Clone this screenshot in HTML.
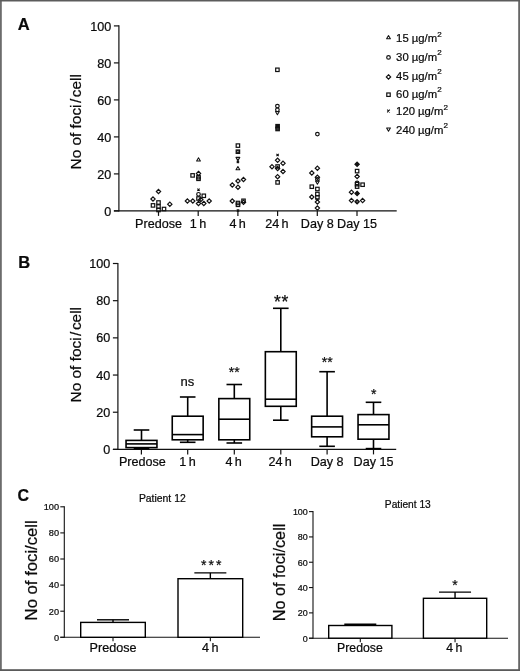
<!DOCTYPE html>
<html><head><meta charset="utf-8"><title>Figure</title>
<style>
html,body{margin:0;padding:0;background:#fff;}
body{width:520px;height:671px;overflow:hidden;position:relative;}
svg{display:block;position:absolute;left:0;top:0;}
text{font-family:"Liberation Sans", Arial, sans-serif;fill:#0a0a0a;stroke:#0a0a0a;stroke-width:0.22px;}
</style></head><body>
<svg width="520" height="671" viewBox="0 0 520 671">
<rect x="0" y="0" width="520" height="671" fill="#fff"/>
<rect x="0" y="0" width="1.8" height="671" fill="#6c6c6c"/>
<rect x="518.2" y="0" width="1.8" height="671" fill="#666"/>
<rect x="0" y="0" width="520" height="1.5" fill="#5c5c5c"/>
<rect x="0" y="669.2" width="520" height="1.8" fill="#5a5a5a"/>

<text x="17.80" y="29.80" font-size="16.5" text-anchor="start" font-weight="bold" >A</text>
<line x1="118.90" y1="25.30" x2="118.90" y2="211.50" stroke="#111" stroke-width="1.2"/>
<line x1="113.90" y1="210.90" x2="396.70" y2="210.90" stroke="#111" stroke-width="1.2"/>
<line x1="113.90" y1="210.90" x2="118.90" y2="210.90" stroke="#111" stroke-width="1.2"/>
<text x="111.30" y="215.50" font-size="12.6" text-anchor="end" font-weight="normal" >0</text>
<line x1="113.90" y1="173.90" x2="118.90" y2="173.90" stroke="#111" stroke-width="1.2"/>
<text x="111.30" y="178.50" font-size="12.6" text-anchor="end" font-weight="normal" >20</text>
<line x1="113.90" y1="136.90" x2="118.90" y2="136.90" stroke="#111" stroke-width="1.2"/>
<text x="111.30" y="141.50" font-size="12.6" text-anchor="end" font-weight="normal" >40</text>
<line x1="113.90" y1="99.90" x2="118.90" y2="99.90" stroke="#111" stroke-width="1.2"/>
<text x="111.30" y="104.50" font-size="12.6" text-anchor="end" font-weight="normal" >60</text>
<line x1="113.90" y1="62.90" x2="118.90" y2="62.90" stroke="#111" stroke-width="1.2"/>
<text x="111.30" y="67.50" font-size="12.6" text-anchor="end" font-weight="normal" >80</text>
<line x1="113.90" y1="25.90" x2="118.90" y2="25.90" stroke="#111" stroke-width="1.2"/>
<text x="111.30" y="30.50" font-size="12.6" text-anchor="end" font-weight="normal" >100</text>
<line x1="158.50" y1="210.90" x2="158.50" y2="215.90" stroke="#111" stroke-width="1.2"/>
<text x="158.50" y="227.70" font-size="12.6" text-anchor="middle" font-weight="normal" >Predose</text>
<line x1="198.20" y1="210.90" x2="198.20" y2="215.90" stroke="#111" stroke-width="1.2"/>
<text x="198.00" y="227.70" font-size="12.6" text-anchor="middle" font-weight="normal" word-spacing="-1.2">1 h</text>
<line x1="237.90" y1="210.90" x2="237.90" y2="215.90" stroke="#111" stroke-width="1.2"/>
<text x="237.70" y="227.70" font-size="12.6" text-anchor="middle" font-weight="normal" word-spacing="-1.2">4 h</text>
<line x1="277.60" y1="210.90" x2="277.60" y2="215.90" stroke="#111" stroke-width="1.2"/>
<text x="276.90" y="227.70" font-size="12.6" text-anchor="middle" font-weight="normal" word-spacing="-1.2">24 h</text>
<line x1="317.30" y1="210.90" x2="317.30" y2="215.90" stroke="#111" stroke-width="1.2"/>
<text x="317.30" y="227.70" font-size="12.6" text-anchor="middle" font-weight="normal" >Day 8</text>
<line x1="357.00" y1="210.90" x2="357.00" y2="215.90" stroke="#111" stroke-width="1.2"/>
<text x="357.00" y="227.70" font-size="12.6" text-anchor="middle" font-weight="normal" >Day 15</text>
<text transform="translate(81.3,121.8) rotate(-90)" font-size="15.4" stroke="#111" stroke-width="0.25" text-anchor="middle" word-spacing="0">No of foci<tspan dx="1.5">/</tspan><tspan dx="1.5">cell</tspan></text>
<path d="M158.50 189.35 L160.65 191.50 L158.50 193.65 L156.35 191.50 Z" fill="none" stroke="#111" stroke-width="1.2"/>
<path d="M153.00 196.85 L155.15 199.00 L153.00 201.15 L150.85 199.00 Z" fill="none" stroke="#111" stroke-width="1.2"/>
<path d="M169.80 202.05 L171.95 204.20 L169.80 206.35 L167.65 204.20 Z" fill="none" stroke="#111" stroke-width="1.2"/>
<rect x="151.28" y="203.68" width="3.44" height="3.44" fill="none" stroke="#111" stroke-width="1.2"/>
<rect x="156.78" y="200.78" width="3.44" height="3.44" fill="none" stroke="#111" stroke-width="1.2"/>
<rect x="156.78" y="204.78" width="3.44" height="3.44" fill="none" stroke="#111" stroke-width="1.2"/>
<rect x="156.78" y="208.28" width="3.44" height="3.44" fill="none" stroke="#111" stroke-width="1.2"/>
<rect x="162.28" y="207.28" width="3.44" height="3.44" fill="none" stroke="#111" stroke-width="1.2"/>
<path d="M198.50 157.69 L200.40 160.93 L196.60 160.93 Z" fill="none" stroke="#111" stroke-width="1.05" stroke-linejoin="round"/>
<path d="M198.50 171.25 L200.65 173.40 L198.50 175.55 L196.35 173.40 Z" fill="none" stroke="#111" stroke-width="1.2"/>
<rect x="190.88" y="173.68" width="3.44" height="3.44" fill="none" stroke="#111" stroke-width="1.2"/>
<rect x="196.78" y="175.48" width="3.44" height="3.44" fill="none" stroke="#111" stroke-width="1.2"/>
<rect x="196.78" y="177.08" width="3.44" height="3.44" fill="none" stroke="#111" stroke-width="1.2"/>
<path d="M197.35 188.55 L199.65 190.85 M199.65 188.55 L197.35 190.85" fill="none" stroke="#111" stroke-width="1.1"/>
<circle cx="198.50" cy="194.30" r="1.8" fill="none" stroke="#111" stroke-width="1.2"/>
<rect x="202.08" y="194.08" width="3.44" height="3.44" fill="none" stroke="#111" stroke-width="1.2"/>
<rect x="196.78" y="196.78" width="3.44" height="3.44" fill="none" stroke="#111" stroke-width="1.2"/>
<path d="M200.80 197.35 L202.95 199.50 L200.80 201.65 L198.65 199.50 Z" fill="none" stroke="#111" stroke-width="1.2"/>
<path d="M187.40 198.85 L189.55 201.00 L187.40 203.15 L185.25 201.00 Z" fill="none" stroke="#111" stroke-width="1.2"/>
<path d="M192.80 198.85 L194.95 201.00 L192.80 203.15 L190.65 201.00 Z" fill="none" stroke="#111" stroke-width="1.2"/>
<path d="M209.20 198.85 L211.35 201.00 L209.20 203.15 L207.05 201.00 Z" fill="none" stroke="#111" stroke-width="1.2"/>
<path d="M198.50 201.25 L200.65 203.40 L198.50 205.55 L196.35 203.40 Z" fill="none" stroke="#111" stroke-width="1.2"/>
<path d="M203.80 201.25 L205.95 203.40 L203.80 205.55 L201.65 203.40 Z" fill="none" stroke="#111" stroke-width="1.2"/>
<rect x="236.18" y="143.88" width="3.44" height="3.44" fill="none" stroke="#111" stroke-width="1.2"/>
<rect x="236.18" y="149.98" width="3.44" height="3.44" fill="none" stroke="#111" stroke-width="1.2"/>
<circle cx="237.90" cy="151.70" r="1.2" fill="none" stroke="#111" stroke-width="1.2"/>
<path d="M237.90 160.61 L239.80 157.38 L236.00 157.38 Z" fill="none" stroke="#111" stroke-width="1.05" stroke-linejoin="round"/>
<path d="M236.75 160.75 L239.05 163.05 M239.05 160.75 L236.75 163.05" fill="none" stroke="#111" stroke-width="1.1"/>
<path d="M237.90 166.50 L239.80 169.73 L236.00 169.73 Z" fill="none" stroke="#111" stroke-width="1.05" stroke-linejoin="round"/>
<path d="M243.50 177.35 L245.65 179.50 L243.50 181.65 L241.35 179.50 Z" fill="none" stroke="#111" stroke-width="1.2"/>
<path d="M238.00 178.85 L240.15 181.00 L238.00 183.15 L235.85 181.00 Z" fill="none" stroke="#111" stroke-width="1.2"/>
<path d="M232.30 182.85 L234.45 185.00 L232.30 187.15 L230.15 185.00 Z" fill="none" stroke="#111" stroke-width="1.2"/>
<path d="M238.00 185.05 L240.15 187.20 L238.00 189.35 L235.85 187.20 Z" fill="none" stroke="#111" stroke-width="1.2"/>
<path d="M232.30 198.85 L234.45 201.00 L232.30 203.15 L230.15 201.00 Z" fill="none" stroke="#111" stroke-width="1.2"/>
<rect x="241.78" y="199.08" width="3.44" height="3.44" fill="none" stroke="#111" stroke-width="1.2"/>
<path d="M243.50 200.15 L245.65 202.30 L243.50 204.45 L241.35 202.30 Z" fill="none" stroke="#111" stroke-width="1.2"/>
<rect x="236.28" y="201.28" width="3.44" height="3.44" fill="none" stroke="#111" stroke-width="1.2"/>
<rect x="236.28" y="203.08" width="3.44" height="3.44" fill="none" stroke="#111" stroke-width="1.2"/>
<path d="M236.85 209.35 L239.15 211.65 M239.15 209.35 L236.85 211.65" fill="none" stroke="#111" stroke-width="1.1"/>
<rect x="275.68" y="68.08" width="3.44" height="3.44" fill="none" stroke="#111" stroke-width="1.2"/>
<circle cx="277.40" cy="106.10" r="1.8" fill="none" stroke="#111" stroke-width="1.2"/>
<circle cx="277.40" cy="109.80" r="1.8" fill="none" stroke="#111" stroke-width="1.2"/>
<path d="M277.40 114.71 L279.30 111.48 L275.50 111.48 Z" fill="none" stroke="#111" stroke-width="1.05" stroke-linejoin="round"/>
<rect x="275.88" y="124.48" width="3.44" height="3.44" fill="#111" stroke="#111" stroke-width="1.2"/>
<rect x="275.88" y="127.28" width="3.44" height="3.44" fill="#333" stroke="#111" stroke-width="1.2"/>
<path d="M276.45 153.85 L278.75 156.15 M278.75 153.85 L276.45 156.15" fill="none" stroke="#111" stroke-width="1.1"/>
<path d="M277.60 158.15 L279.75 160.30 L277.60 162.45 L275.45 160.30 Z" fill="none" stroke="#111" stroke-width="1.2"/>
<path d="M283.00 161.15 L285.15 163.30 L283.00 165.45 L280.85 163.30 Z" fill="none" stroke="#111" stroke-width="1.2"/>
<path d="M272.00 164.55 L274.15 166.70 L272.00 168.85 L269.85 166.70 Z" fill="none" stroke="#111" stroke-width="1.2"/>
<rect x="275.88" y="164.78" width="3.44" height="3.44" fill="none" stroke="#111" stroke-width="1.2"/>
<path d="M277.60 166.35 L279.75 168.50 L277.60 170.65 L275.45 168.50 Z" fill="none" stroke="#111" stroke-width="1.2"/>
<path d="M283.00 169.35 L285.15 171.50 L283.00 173.65 L280.85 171.50 Z" fill="none" stroke="#111" stroke-width="1.2"/>
<path d="M277.60 174.55 L279.75 176.70 L277.60 178.85 L275.45 176.70 Z" fill="none" stroke="#111" stroke-width="1.2"/>
<rect x="275.88" y="180.68" width="3.44" height="3.44" fill="none" stroke="#111" stroke-width="1.2"/>
<circle cx="317.40" cy="134.10" r="1.8" fill="none" stroke="#111" stroke-width="1.2"/>
<path d="M317.40 166.05 L319.55 168.20 L317.40 170.35 L315.25 168.20 Z" fill="none" stroke="#111" stroke-width="1.2"/>
<path d="M311.80 170.75 L313.95 172.90 L311.80 175.05 L309.65 172.90 Z" fill="none" stroke="#111" stroke-width="1.2"/>
<path d="M317.40 175.15 L319.55 177.30 L317.40 179.45 L315.25 177.30 Z" fill="none" stroke="#111" stroke-width="1.2"/>
<circle cx="317.40" cy="179.30" r="1.8" fill="none" stroke="#111" stroke-width="1.2"/>
<path d="M317.40 184.21 L319.30 180.97 L315.50 180.97 Z" fill="none" stroke="#111" stroke-width="1.05" stroke-linejoin="round"/>
<rect x="310.08" y="184.98" width="3.44" height="3.44" fill="none" stroke="#111" stroke-width="1.2"/>
<rect x="315.68" y="187.28" width="3.44" height="3.44" fill="none" stroke="#111" stroke-width="1.2"/>
<rect x="315.68" y="192.28" width="3.44" height="3.44" fill="none" stroke="#111" stroke-width="1.2"/>
<path d="M311.80 194.85 L313.95 197.00 L311.80 199.15 L309.65 197.00 Z" fill="none" stroke="#111" stroke-width="1.2"/>
<rect x="315.68" y="195.68" width="3.44" height="3.44" fill="none" stroke="#111" stroke-width="1.2"/>
<path d="M316.25 198.35 L318.55 200.65 M318.55 198.35 L316.25 200.65" fill="none" stroke="#111" stroke-width="1.1"/>
<path d="M317.40 199.85 L319.55 202.00 L317.40 204.15 L315.25 202.00 Z" fill="none" stroke="#111" stroke-width="1.2"/>
<path d="M317.40 205.95 L319.55 208.10 L317.40 210.25 L315.25 208.10 Z" fill="none" stroke="#111" stroke-width="1.2"/>
<path d="M357.10 162.15 L359.25 164.30 L357.10 166.45 L354.95 164.30 Z" fill="#111" stroke="#111" stroke-width="1.2"/>
<rect x="355.38" y="169.38" width="3.44" height="3.44" fill="none" stroke="#111" stroke-width="1.2"/>
<path d="M357.10 174.25 L359.25 176.40 L357.10 178.55 L354.95 176.40 Z" fill="none" stroke="#111" stroke-width="1.2"/>
<circle cx="357.10" cy="183.00" r="1.8" fill="none" stroke="#111" stroke-width="1.2"/>
<rect x="355.38" y="182.48" width="3.44" height="3.44" fill="none" stroke="#111" stroke-width="1.2"/>
<rect x="355.38" y="184.88" width="3.44" height="3.44" fill="none" stroke="#111" stroke-width="1.2"/>
<rect x="360.88" y="182.98" width="3.44" height="3.44" fill="none" stroke="#111" stroke-width="1.2"/>
<path d="M351.50 190.05 L353.65 192.20 L351.50 194.35 L349.35 192.20 Z" fill="none" stroke="#111" stroke-width="1.2"/>
<path d="M357.10 191.25 L359.25 193.40 L357.10 195.55 L354.95 193.40 Z" fill="#111" stroke="#111" stroke-width="1.2"/>
<path d="M351.50 198.45 L353.65 200.60 L351.50 202.75 L349.35 200.60 Z" fill="none" stroke="#111" stroke-width="1.2"/>
<path d="M362.60 198.45 L364.75 200.60 L362.60 202.75 L360.45 200.60 Z" fill="none" stroke="#111" stroke-width="1.2"/>
<path d="M357.10 199.65 L359.25 201.80 L357.10 203.95 L354.95 201.80 Z" fill="none" stroke="#111" stroke-width="1.2"/>
<circle cx="357.10" cy="201.80" r="1.2" fill="none" stroke="#111" stroke-width="1.2"/>
<path d="M388.50 35.59 L390.40 38.82 L386.60 38.82 Z" fill="none" stroke="#111" stroke-width="1.05" stroke-linejoin="round"/>
<circle cx="388.50" cy="57.40" r="1.8" fill="none" stroke="#111" stroke-width="1.2"/>
<path d="M388.50 74.75 L390.65 76.90 L388.50 79.05 L386.35 76.90 Z" fill="none" stroke="#111" stroke-width="1.2"/>
<rect x="386.78" y="92.98" width="3.44" height="3.44" fill="none" stroke="#111" stroke-width="1.2"/>
<path d="M387.20 109.70 L389.80 112.30 M389.80 109.70 L387.20 112.30" fill="none" stroke="#111" stroke-width="1.1"/>
<path d="M388.50 131.20 L390.40 127.97 L386.60 127.97 Z" fill="none" stroke="#111" stroke-width="1.05" stroke-linejoin="round"/>
<text x="396.1" y="42.3" font-size="11.3" text-anchor="start">15 µg/m<tspan font-size="8" dy="-5.8">2</tspan></text>
<text x="396.1" y="60.8" font-size="11.3" text-anchor="start">30 µg/m<tspan font-size="8" dy="-5.8">2</tspan></text>
<text x="396.1" y="80" font-size="11.3" text-anchor="start">45 µg/m<tspan font-size="8" dy="-5.8">2</tspan></text>
<text x="396.1" y="98" font-size="11.3" text-anchor="start">60 µg/m<tspan font-size="8" dy="-5.8">2</tspan></text>
<text x="396.1" y="115.3" font-size="11.3" text-anchor="start">120 µg/m<tspan font-size="8" dy="-5.8">2</tspan></text>
<text x="396.1" y="133.7" font-size="11.3" text-anchor="start">240 µg/m<tspan font-size="8" dy="-5.8">2</tspan></text>
<text x="18.20" y="267.50" font-size="16.5" text-anchor="start" font-weight="bold" >B</text>
<line x1="117.90" y1="262.90" x2="117.90" y2="450.00" stroke="#111" stroke-width="1.2"/>
<line x1="112.90" y1="449.40" x2="396.20" y2="449.40" stroke="#111" stroke-width="1.2"/>
<line x1="112.90" y1="449.40" x2="117.90" y2="449.40" stroke="#111" stroke-width="1.2"/>
<text x="110.30" y="454.00" font-size="12.6" text-anchor="end" font-weight="normal" >0</text>
<line x1="112.90" y1="412.22" x2="117.90" y2="412.22" stroke="#111" stroke-width="1.2"/>
<text x="110.30" y="416.82" font-size="12.6" text-anchor="end" font-weight="normal" >20</text>
<line x1="112.90" y1="375.04" x2="117.90" y2="375.04" stroke="#111" stroke-width="1.2"/>
<text x="110.30" y="379.64" font-size="12.6" text-anchor="end" font-weight="normal" >40</text>
<line x1="112.90" y1="337.86" x2="117.90" y2="337.86" stroke="#111" stroke-width="1.2"/>
<text x="110.30" y="342.46" font-size="12.6" text-anchor="end" font-weight="normal" >60</text>
<line x1="112.90" y1="300.68" x2="117.90" y2="300.68" stroke="#111" stroke-width="1.2"/>
<text x="110.30" y="305.28" font-size="12.6" text-anchor="end" font-weight="normal" >80</text>
<line x1="112.90" y1="263.50" x2="117.90" y2="263.50" stroke="#111" stroke-width="1.2"/>
<text x="110.30" y="268.10" font-size="12.6" text-anchor="end" font-weight="normal" >100</text>
<line x1="141.40" y1="449.40" x2="141.40" y2="454.40" stroke="#111" stroke-width="1.2"/>
<text x="142.40" y="466.20" font-size="12.6" text-anchor="middle" font-weight="normal" >Predose</text>
<line x1="187.70" y1="449.40" x2="187.70" y2="454.40" stroke="#111" stroke-width="1.2"/>
<text x="187.50" y="466.20" font-size="12.6" text-anchor="middle" font-weight="normal" word-spacing="-1.2">1 h</text>
<line x1="234.30" y1="449.40" x2="234.30" y2="454.40" stroke="#111" stroke-width="1.2"/>
<text x="233.70" y="466.20" font-size="12.6" text-anchor="middle" font-weight="normal" word-spacing="-1.2">4 h</text>
<line x1="280.80" y1="449.40" x2="280.80" y2="454.40" stroke="#111" stroke-width="1.2"/>
<text x="280.20" y="466.20" font-size="12.6" text-anchor="middle" font-weight="normal" word-spacing="-1.2">24 h</text>
<line x1="327.10" y1="449.40" x2="327.10" y2="454.40" stroke="#111" stroke-width="1.2"/>
<text x="327.10" y="466.20" font-size="12.6" text-anchor="middle" font-weight="normal" >Day 8</text>
<line x1="373.50" y1="449.40" x2="373.50" y2="454.40" stroke="#111" stroke-width="1.2"/>
<text x="373.50" y="466.20" font-size="12.6" text-anchor="middle" font-weight="normal" >Day 15</text>
<text transform="translate(81.0,354.7) rotate(-90)" font-size="15.4" stroke="#111" stroke-width="0.25" text-anchor="middle">No of foci<tspan dx="1.5">/</tspan><tspan dx="1.5">cell</tspan></text>
<rect x="126.05" y="440.40" width="30.9" height="7.20" fill="#fff" stroke="#000" stroke-width="1.6"/>
<line x1="126.05" y1="443.90" x2="156.95" y2="443.90" stroke="#000" stroke-width="1.6"/>
<line x1="141.50" y1="440.40" x2="141.50" y2="430.00" stroke="#000" stroke-width="1.6"/>
<line x1="133.70" y1="430.00" x2="149.30" y2="430.00" stroke="#000" stroke-width="1.6"/>
<line x1="141.50" y1="447.60" x2="141.50" y2="448.60" stroke="#000" stroke-width="1.6"/>
<line x1="133.70" y1="448.60" x2="149.30" y2="448.60" stroke="#000" stroke-width="1.6"/>
<rect x="172.25" y="416.20" width="30.9" height="23.60" fill="#fff" stroke="#000" stroke-width="1.6"/>
<line x1="172.25" y1="434.60" x2="203.15" y2="434.60" stroke="#000" stroke-width="1.6"/>
<line x1="187.70" y1="416.20" x2="187.70" y2="397.00" stroke="#000" stroke-width="1.6"/>
<line x1="179.90" y1="397.00" x2="195.50" y2="397.00" stroke="#000" stroke-width="1.6"/>
<line x1="187.70" y1="439.80" x2="187.70" y2="442.30" stroke="#000" stroke-width="1.6"/>
<line x1="179.90" y1="442.30" x2="195.50" y2="442.30" stroke="#000" stroke-width="1.6"/>
<rect x="218.85" y="398.60" width="30.9" height="41.20" fill="#fff" stroke="#000" stroke-width="1.6"/>
<line x1="218.85" y1="419.20" x2="249.75" y2="419.20" stroke="#000" stroke-width="1.6"/>
<line x1="234.30" y1="398.60" x2="234.30" y2="384.50" stroke="#000" stroke-width="1.6"/>
<line x1="226.50" y1="384.50" x2="242.10" y2="384.50" stroke="#000" stroke-width="1.6"/>
<line x1="234.30" y1="439.80" x2="234.30" y2="443.00" stroke="#000" stroke-width="1.6"/>
<line x1="226.50" y1="443.00" x2="242.10" y2="443.00" stroke="#000" stroke-width="1.6"/>
<rect x="265.35" y="351.70" width="30.9" height="54.60" fill="#fff" stroke="#000" stroke-width="1.6"/>
<line x1="265.35" y1="399.20" x2="296.25" y2="399.20" stroke="#000" stroke-width="1.6"/>
<line x1="280.80" y1="351.70" x2="280.80" y2="308.30" stroke="#000" stroke-width="1.6"/>
<line x1="273.00" y1="308.30" x2="288.60" y2="308.30" stroke="#000" stroke-width="1.6"/>
<line x1="280.80" y1="406.30" x2="280.80" y2="420.20" stroke="#000" stroke-width="1.6"/>
<line x1="273.00" y1="420.20" x2="288.60" y2="420.20" stroke="#000" stroke-width="1.6"/>
<rect x="311.65" y="416.20" width="30.9" height="20.60" fill="#fff" stroke="#000" stroke-width="1.6"/>
<line x1="311.65" y1="426.90" x2="342.55" y2="426.90" stroke="#000" stroke-width="1.6"/>
<line x1="327.10" y1="416.20" x2="327.10" y2="371.70" stroke="#000" stroke-width="1.6"/>
<line x1="319.30" y1="371.70" x2="334.90" y2="371.70" stroke="#000" stroke-width="1.6"/>
<line x1="327.10" y1="436.80" x2="327.10" y2="446.30" stroke="#000" stroke-width="1.6"/>
<line x1="319.30" y1="446.30" x2="334.90" y2="446.30" stroke="#000" stroke-width="1.6"/>
<rect x="358.05" y="414.60" width="30.9" height="24.60" fill="#fff" stroke="#000" stroke-width="1.6"/>
<line x1="358.05" y1="424.80" x2="388.95" y2="424.80" stroke="#000" stroke-width="1.6"/>
<line x1="373.50" y1="414.60" x2="373.50" y2="402.30" stroke="#000" stroke-width="1.6"/>
<line x1="365.70" y1="402.30" x2="381.30" y2="402.30" stroke="#000" stroke-width="1.6"/>
<line x1="373.50" y1="439.20" x2="373.50" y2="448.60" stroke="#000" stroke-width="1.6"/>
<line x1="365.70" y1="448.60" x2="381.30" y2="448.60" stroke="#000" stroke-width="1.6"/>
<text x="187.30" y="386.40" font-size="13" text-anchor="middle" font-weight="normal" stroke="#111" stroke-width="0.2">ns</text>
<text x="234.20" y="377.30" font-size="14" text-anchor="middle" font-weight="normal" >**</text>
<text x="281.60" y="308.30" font-size="17.5" text-anchor="middle" font-weight="normal" letter-spacing="0.8">**</text>
<text x="327.30" y="367.30" font-size="14" text-anchor="middle" font-weight="normal" >**</text>
<text x="373.70" y="399.20" font-size="14" text-anchor="middle" font-weight="normal" >*</text>
<text x="17.50" y="501.00" font-size="16" text-anchor="start" font-weight="bold" >C</text>
<line x1="64.30" y1="506.30" x2="64.30" y2="637.80" stroke="#111" stroke-width="1.1"/>
<line x1="60.30" y1="637.30" x2="260.00" y2="637.30" stroke="#111" stroke-width="1.1"/>
<line x1="60.30" y1="637.30" x2="64.30" y2="637.30" stroke="#111" stroke-width="1.1"/>
<text x="59.10" y="640.60" font-size="9.2" text-anchor="end" font-weight="normal" >0</text>
<line x1="60.30" y1="611.20" x2="64.30" y2="611.20" stroke="#111" stroke-width="1.1"/>
<text x="59.10" y="614.50" font-size="9.2" text-anchor="end" font-weight="normal" >20</text>
<line x1="60.30" y1="585.10" x2="64.30" y2="585.10" stroke="#111" stroke-width="1.1"/>
<text x="59.10" y="588.40" font-size="9.2" text-anchor="end" font-weight="normal" >40</text>
<line x1="60.30" y1="559.00" x2="64.30" y2="559.00" stroke="#111" stroke-width="1.1"/>
<text x="59.10" y="562.30" font-size="9.2" text-anchor="end" font-weight="normal" >60</text>
<line x1="60.30" y1="532.90" x2="64.30" y2="532.90" stroke="#111" stroke-width="1.1"/>
<text x="59.10" y="536.20" font-size="9.2" text-anchor="end" font-weight="normal" >80</text>
<line x1="60.30" y1="506.80" x2="64.30" y2="506.80" stroke="#111" stroke-width="1.1"/>
<text x="59.10" y="510.10" font-size="9.2" text-anchor="end" font-weight="normal" >100</text>
<text x="162.30" y="502.30" font-size="10.4" text-anchor="middle" font-weight="normal" >Patient 12</text>
<text transform="translate(36.9,570.3) rotate(-90)" font-size="16.7" text-anchor="middle">No of foci/cell</text>
<line x1="113.00" y1="622.40" x2="113.00" y2="619.80" stroke="#000" stroke-width="1.4"/>
<line x1="97.00" y1="619.80" x2="129.00" y2="619.80" stroke="#000" stroke-width="1.4"/>
<rect x="80.70" y="622.40" width="64.60" height="14.90" fill="#fff" stroke="#000" stroke-width="1.4"/>
<line x1="113.00" y1="637.30" x2="113.00" y2="641.30" stroke="#111" stroke-width="1.1"/>
<text x="113.00" y="652.40" font-size="12.6" text-anchor="middle" font-weight="normal" >Predose</text>
<line x1="210.35" y1="578.70" x2="210.35" y2="572.90" stroke="#000" stroke-width="1.4"/>
<line x1="194.35" y1="572.90" x2="226.35" y2="572.90" stroke="#000" stroke-width="1.4"/>
<rect x="178.00" y="578.70" width="64.70" height="58.60" fill="#fff" stroke="#000" stroke-width="1.4"/>
<line x1="210.35" y1="637.30" x2="210.35" y2="641.30" stroke="#111" stroke-width="1.1"/>
<text x="210.30" y="652.40" font-size="12.6" text-anchor="middle" font-weight="normal" word-spacing="-1">4 h</text>
<text x="212.20" y="569.50" font-size="14" text-anchor="middle" font-weight="normal" letter-spacing="2" fill="#333" stroke="none">***</text>
<line x1="313.00" y1="511.10" x2="313.00" y2="638.70" stroke="#111" stroke-width="1.1"/>
<line x1="309.00" y1="638.20" x2="508.00" y2="638.20" stroke="#111" stroke-width="1.1"/>
<line x1="309.00" y1="638.20" x2="313.00" y2="638.20" stroke="#111" stroke-width="1.1"/>
<text x="307.80" y="641.50" font-size="8.95" text-anchor="end" font-weight="normal" >0</text>
<line x1="309.00" y1="612.88" x2="313.00" y2="612.88" stroke="#111" stroke-width="1.1"/>
<text x="307.80" y="616.18" font-size="8.95" text-anchor="end" font-weight="normal" >20</text>
<line x1="309.00" y1="587.56" x2="313.00" y2="587.56" stroke="#111" stroke-width="1.1"/>
<text x="307.80" y="590.86" font-size="8.95" text-anchor="end" font-weight="normal" >40</text>
<line x1="309.00" y1="562.24" x2="313.00" y2="562.24" stroke="#111" stroke-width="1.1"/>
<text x="307.80" y="565.54" font-size="8.95" text-anchor="end" font-weight="normal" >60</text>
<line x1="309.00" y1="536.92" x2="313.00" y2="536.92" stroke="#111" stroke-width="1.1"/>
<text x="307.80" y="540.22" font-size="8.95" text-anchor="end" font-weight="normal" >80</text>
<line x1="309.00" y1="511.60" x2="313.00" y2="511.60" stroke="#111" stroke-width="1.1"/>
<text x="307.80" y="514.90" font-size="8.95" text-anchor="end" font-weight="normal" >100</text>
<text x="407.80" y="507.70" font-size="10.2" text-anchor="middle" font-weight="normal" >Patient 13</text>
<text transform="translate(284.5,572.5) rotate(-90)" font-size="16.3" text-anchor="middle">No of foci/cell</text>
<line x1="360.30" y1="625.50" x2="360.30" y2="624.30" stroke="#000" stroke-width="1.4"/>
<line x1="344.30" y1="624.30" x2="376.30" y2="624.30" stroke="#000" stroke-width="1.4"/>
<rect x="328.70" y="625.50" width="63.20" height="12.70" fill="#fff" stroke="#000" stroke-width="1.4"/>
<line x1="360.30" y1="638.20" x2="360.30" y2="642.20" stroke="#111" stroke-width="1.1"/>
<text x="359.90" y="652.40" font-size="12.25" text-anchor="middle" font-weight="normal" >Predose</text>
<line x1="455.05" y1="598.30" x2="455.05" y2="592.10" stroke="#000" stroke-width="1.4"/>
<line x1="439.05" y1="592.10" x2="471.05" y2="592.10" stroke="#000" stroke-width="1.4"/>
<rect x="423.40" y="598.30" width="63.30" height="39.90" fill="#fff" stroke="#000" stroke-width="1.4"/>
<line x1="455.05" y1="638.20" x2="455.05" y2="642.20" stroke="#111" stroke-width="1.1"/>
<text x="454.30" y="652.40" font-size="12.25" text-anchor="middle" font-weight="normal" word-spacing="-1">4 h</text>
<text x="455.00" y="589.70" font-size="14" text-anchor="middle" font-weight="normal" letter-spacing="0" fill="#333" stroke="none">*</text>
</svg></body></html>
